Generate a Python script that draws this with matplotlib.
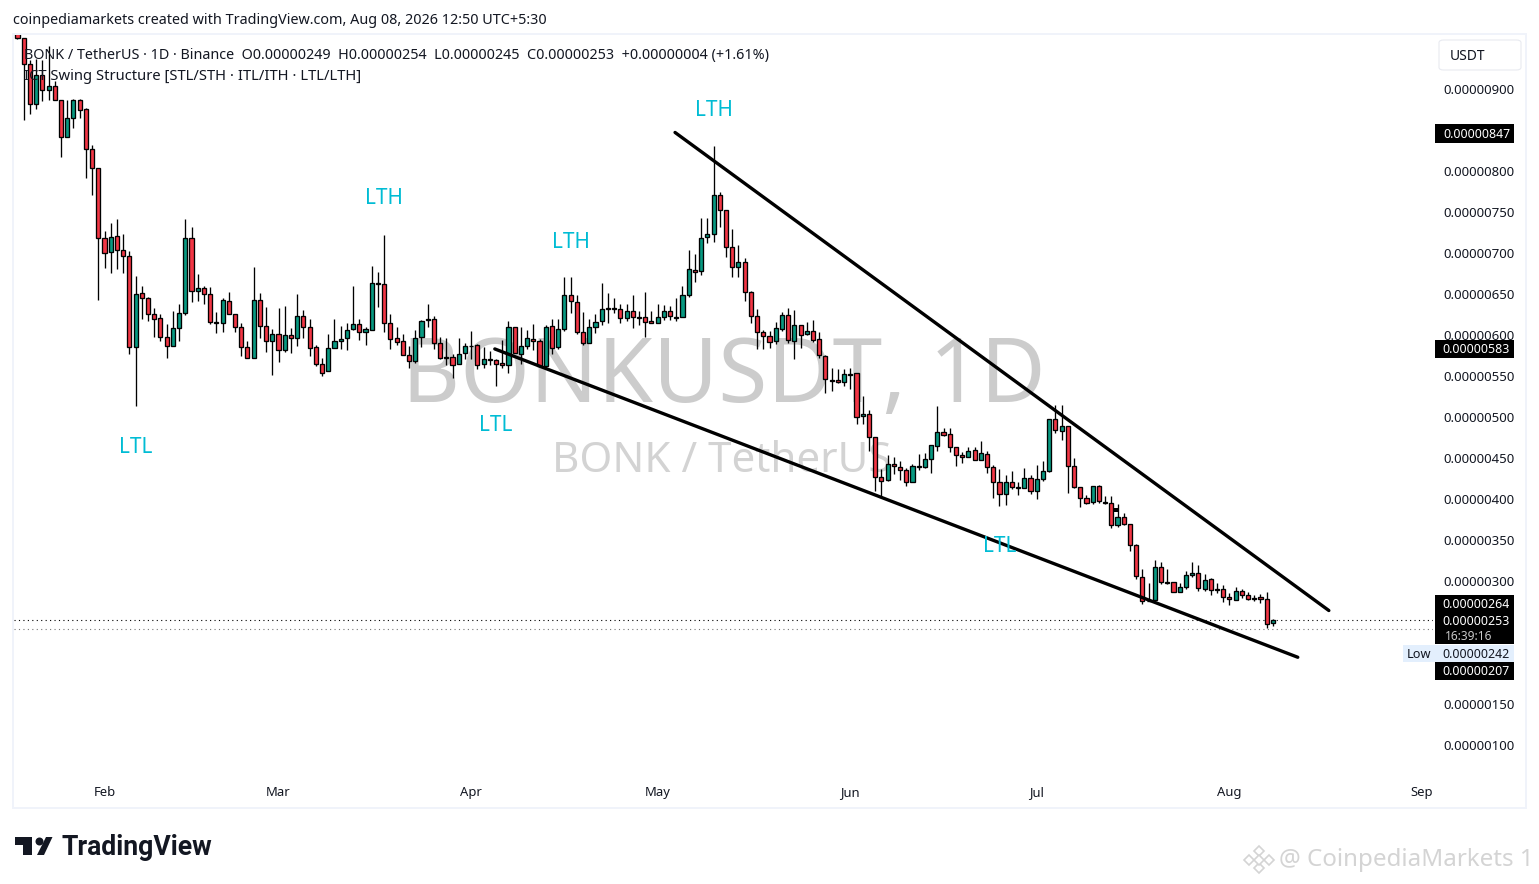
import matplotlib
matplotlib.use('Agg')
import matplotlib.pyplot as plt
from matplotlib.patches import Rectangle, Polygon, FancyBboxPatch, Ellipse

# prices are in units of 0.00000001
opens = [975,962,931,882,917,899,904,887,841,865,887,876,827,804,
 718,701,721,704,696,585,651,645,625,621,598,587,609,627,718,654,657,650,616,615,641,625,610,585,572,643,611,593,601,582,600,596,
 623,610,585,565,556,584,593,596,607,613,604,606,663,662,615,596,593,576,568,598,618,620,590,573,573,565,578,587,588,565,571,569,566,563,610,577,587,595,593,562,611,585,607,649,640,604,590,
 610,617,633,633,632,621,629,622,622,617,615,622,629,622,622,649,679,678,720,723,771,752,707,683,689,652,623,604,599,593,607,624,593,612,601,605,595,574,545,545,543,552,
 554,501,504,476,427,423,443,439,435,421,440,439,449,465,482,479,463,454,451,460,448,455,439,421,406,421,415,413,426,410,424,434,498,483,489,440,415,401,396,416,396,
 395,368,378,369,344,305,276,277,317,299,299,287,293,307,310,290,302,290,290,281,277,288,283,279,281,278,249]
highs = [975,962,935,936,935,952,910,887,887,888,888,877,832,804,
 727,737,742,723,702,672,660,646,633,625,613,629,638,742,732,674,660,659,628,645,652,625,615,593,683,651,634,607,633,635,609,650,
 630,620,588,572,601,620,611,615,660,620,610,684,677,722,626,610,601,587,606,618,638,623,598,596,577,596,590,605,589,585,580,571,594,617,610,610,606,613,595,612,619,619,671,671,649,628,619,
 625,663,651,645,638,638,649,629,652,629,638,637,635,645,660,704,699,743,743,830,774,752,729,710,694,654,632,606,605,616,628,633,630,612,616,618,604,576,560,559,559,560,
 554,526,509,476,437,454,451,446,438,443,455,456,466,513,487,487,463,457,463,463,471,459,441,437,429,434,421,438,429,441,446,498,515,515,489,450,415,405,416,417,404,
 404,394,383,370,345,315,298,326,323,315,299,298,312,323,320,309,304,298,295,285,293,290,287,283,284,287,254]
lows = [961,862,869,876,885,886,886,817,841,852,865,791,771,643,
 682,676,680,676,577,513,619,617,598,593,572,587,593,624,640,641,638,613,602,604,625,604,574,572,572,596,579,551,567,579,578,587,
 596,574,562,550,556,584,583,582,606,594,588,606,634,604,583,588,576,560,566,585,610,583,571,563,548,565,571,571,559,560,563,538,560,554,578,565,583,582,561,561,577,583,605,627,601,588,590,
 602,612,615,627,615,617,609,612,598,615,615,618,618,617,622,646,665,673,712,713,732,695,671,671,641,615,583,583,584,589,605,590,571,584,600,591,572,529,532,541,538,534,
 491,491,459,410,404,422,430,423,416,421,435,438,432,459,477,457,440,444,451,448,448,432,401,392,393,412,405,413,406,400,422,433,480,472,407,413,390,394,394,395,394,
 365,366,368,337,302,272,275,277,296,296,287,287,290,305,288,288,283,285,274,271,277,279,277,276,273,243,245]
closes = [962,931,882,917,899,904,886,841,865,887,874,827,804,718,
 700,720,704,696,585,650,645,625,620,598,587,609,627,718,654,657,650,616,615,643,625,610,585,572,643,611,593,601,582,600,596,623,
 610,584,565,554,584,593,595,606,613,604,607,663,662,615,595,591,576,568,596,617,620,590,572,572,563,577,587,586,563,571,570,565,563,610,578,587,596,593,562,610,584,607,649,641,604,590,610,
 616,632,632,632,621,629,622,621,616,615,622,629,623,621,649,680,677,718,723,771,752,707,683,689,652,623,604,599,591,609,624,594,612,600,605,594,576,546,544,543,552,551,
 500,504,476,427,422,443,440,435,421,440,439,449,466,482,478,463,454,451,459,448,456,439,421,406,421,415,414,426,410,424,434,498,484,489,440,415,401,395,416,398,395,
 368,378,369,344,306,276,275,317,299,298,287,293,307,310,291,301,289,289,281,278,288,283,278,278,278,248,253]

first_day = -14  # Jan 18, day 0 is Feb 1
month_days = [0, 28, 59, 89, 120, 150, 181, 212]
month_names = ['Feb', 'Mar', 'Apr', 'May', 'Jun', 'Jul', 'Aug', 'Sep']
price_ticks = [100, 150, 200, 250, 300, 350, 400, 450, 500, 550, 600, 650, 700, 750, 800, 850, 900]

upper_days = [91.8, 197.0]
upper_prices = [847, 264]
lower_days = [62.8, 192.0]
lower_prices = [583, 207]

swing_names = ['LTL', 'LTH', 'LTH', 'LTL', 'LTH', 'LTL']
swing_days = [5, 45, 75, 63, 98, 144]
swing_prices = [463, 766, 713, 490, 874, 342]

W, H = 1539, 884
GREEN = '#089981'
RED = '#f23645'
DARK = '#131722'
plt.rcParams['font.family'] = 'Noto Sans'

def fx(x):
    return x / W

def fy(y):
    return 1 - y / H

def px_box(fig, x0, y0, x1, y1, color, z=5):
    fig.add_artist(Rectangle((fx(x0), fy(y1)), (x1 - x0) / W, (y1 - y0) / H,
                             transform=fig.transFigure, fc=color, ec='none', zorder=z))

def px_text(fig, x, y, s, size, color=DARK, weight='normal', ha='left', z=6, family=None):
    fig.text(fx(x), fy(y + 1.8), s, fontsize=size, color=color, fontweight=weight,
             ha=ha, va='center', zorder=z, family=family)

fig = plt.figure(figsize=(W / 100, H / 100), dpi=100, facecolor='white')

# plot area runs from x=14 to 1433 and y=35 to 780 in pixels
ax = fig.add_axes([fx(14), fy(780), (1433 - 14) / W, (780 - 35) / H])
ax.set_xlim((14 - 104.5) / 6.215, (1433 - 104.5) / 6.215)
ax.set_ylim(100 + (745 - 780) * 1.2195, 100 + (745 - 35) * 1.2195)
for s in ax.spines.values():
    s.set_visible(False)
ax.set_xticks([])
ax.set_yticks([])

# big symbol watermark
ax.text(fx(724), fy(379), 'BONKUSDT, 1D', transform=fig.transFigure, fontsize=64.3, color='#cccccc',
        ha='center', va='center', zorder=0)
ax.text(fx(722), fy(461), 'BONK / TetherUS', transform=fig.transFigure, fontsize=30.3, color='#d3d3d3',
        ha='center', va='center', zorder=0)

for i in range(len(opens)):
    d = first_day + i
    o, h, l, c = opens[i], highs[i], lows[i], closes[i]
    ax.vlines(d, l, h, color='black', lw=0.95, zorder=2)
    col = GREEN if c >= o else RED
    ax.add_patch(Rectangle((d - 0.33, min(o, c)), 0.66, abs(c - o), fc=col, ec='black', lw=0.95, zorder=3))

# small dark tick beside the mid July candle
ax.add_patch(Rectangle((162.4, 384), 0.8, 5, fc='black', ec='none', zorder=3))

ax.plot(upper_days, upper_prices, color='black', lw=2.4, zorder=4, solid_capstyle='round')
ax.plot(lower_days, lower_prices, color='black', lw=2.4, zorder=4, solid_capstyle='round')

for name, d, p in zip(swing_names, swing_days, swing_prices):
    ax.text(d, p, name, color='#00bcd4', fontsize=15, ha='center', va='center', zorder=5)

ax.axhline(253, color='black', lw=0.8, ls=(0, (1, 3)), zorder=1)
ax.axhline(242, color='#777777', lw=0.8, ls=(0, (1, 3)), zorder=1)

# chart frame
for box in [(13, 33, 1527, 35), (13, 807, 1527, 809), (12, 33, 14, 809), (1525, 33, 1527, 809)]:
    px_box(fig, *box, '#f0f3fa', z=1)

# price axis
for p in price_ticks:
    y = 745 - (p - 100) / 1.2195
    px_text(fig, 1515, y, '0.%08d' % p, 9.5, ha='right', z=2)
for d, name in zip(month_days, month_names):
    px_text(fig, 104.5 + 6.215 * d, 791, name, 9.4, ha='center', z=2)

# price tags
def tag(y0, y1, s, y_text=None):
    px_box(fig, 1435, y0, 1514, y1, 'black')
    px_text(fig, 1510, (y0 + y1) / 2 - 1 if y_text is None else y_text, s, 8.9, color='white', ha='right')

tag(124, 143, '0.00000847')
tag(340, 358, '0.00000583')
tag(595, 644, '0.00000264', 603)
px_text(fig, 1510, 619.5, '0.00000253', 8.9, color='white', ha='right')
px_text(fig, 1445, 634.5, '16:39:16', 8.6, color='#c8c8c8')
px_box(fig, 1403, 645, 1514, 662, '#e3effd')
px_text(fig, 1407, 652.5, 'Low', 9.2)
px_text(fig, 1510, 652.5, '0.00000242', 8.9, ha='right')
tag(662, 680, '0.00000207')

# USDT button
fig.add_artist(FancyBboxPatch((fx(1439), fy(70)), 82 / W, 30 / H, boxstyle='round,pad=0,rounding_size=0.003',
                              transform=fig.transFigure, fc='white', ec='#e8eaf0', lw=0.8, zorder=5))
px_text(fig, 1450, 55, 'USDT', 10)

# header and legend
px_text(fig, 13, 19, 'coinpediamarkets created with TradingView.com, Aug 08, 2026 12:50 UTC+5:30', 10.36)
px_text(fig, 24, 54, 'BONK / TetherUS · 1D · Binance  O0.00000249  H0.00000254  L0.00000245  C0.00000253  +0.00000004 (+1.61%)', 10.35)
px_text(fig, 24, 75, 'ICT Swing Structure [STL/STH · ITL/ITH · LTL/LTH]', 10.65)

# TradingView logo
logo = '#131722'
for pts in [[(15, 837), (32, 837), (32, 855), (23, 855), (23, 845), (15, 845)],
            [(46, 837), (52.5, 837), (44, 855), (37, 855)]]:
    fig.add_artist(Polygon([(fx(a), fy(b)) for a, b in pts], transform=fig.transFigure, fc=logo, ec='none'))
fig.add_artist(Ellipse((fx(39.5), fy(841.5)), 8 / W, 8 / H, transform=fig.transFigure, fc=logo, ec='none'))
px_text(fig, 61, 846, 'TradingView', 19.2, color=logo, weight='bold', family='Roboto')

# corner watermark
mark = '#d4d4d4'
for cx, cy in [(1259, 851), (1259, 868), (1249, 860), (1269, 860), (1259, 860)]:
    r = 5
    fig.add_artist(Polygon([(fx(cx - r), fy(cy)), (fx(cx), fy(cy - r)), (fx(cx + r), fy(cy)), (fx(cx), fy(cy + r))],
                           transform=fig.transFigure, fc='white', ec=mark, lw=1.2))
px_text(fig, 1279, 858, '@ CoinpediaMarkets 1', 17.4, color=mark)

fig.savefig('out.png', dpi=100)
